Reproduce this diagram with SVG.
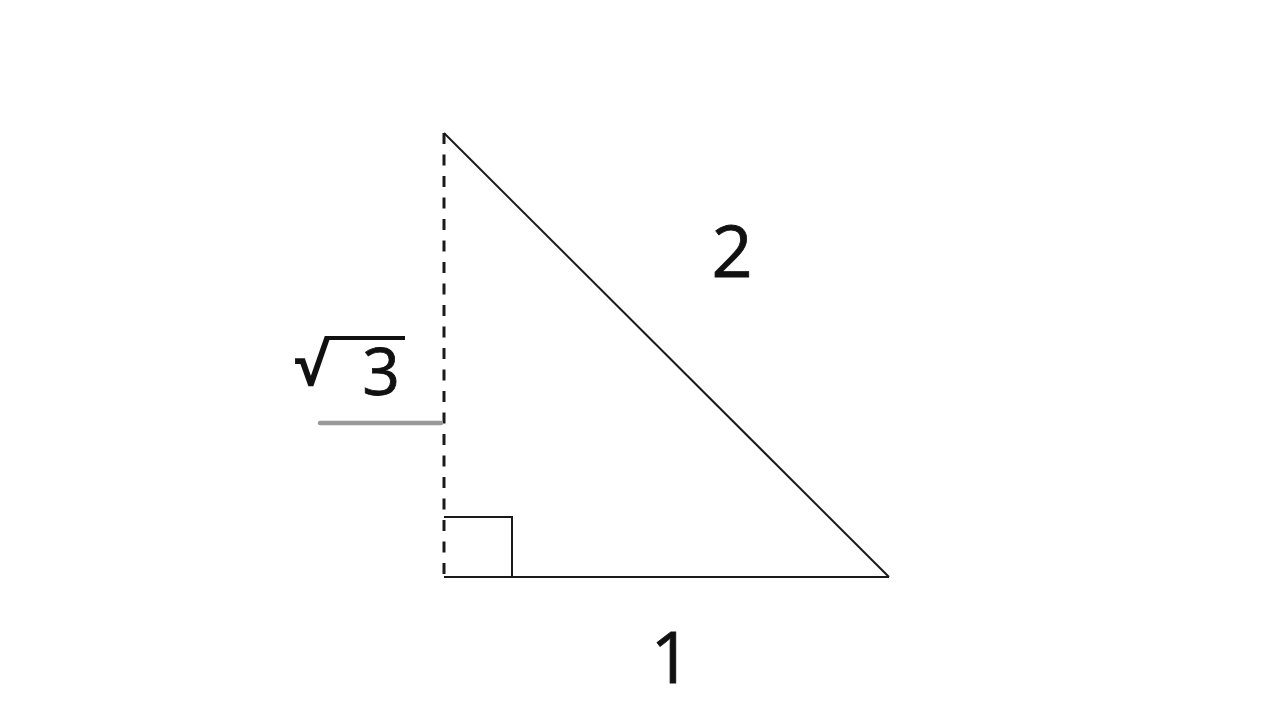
<svg xmlns="http://www.w3.org/2000/svg" width="1280" height="720" viewBox="0 0 1280 720">
<style>
.edge{stroke:#1a1a1a;stroke-width:2;fill:none}
.dash{stroke:#1a1a1a;stroke-width:3;stroke-dasharray:11 10.5;fill:none}
.lbl{font-family:"Open Sans","Noto Sans",sans-serif;fill:#111}
</style>
<rect width="1280" height="720" fill="#ffffff"/>
<g id="connectors">
<line class="dash" x1="444" y1="133" x2="444" y2="577"/>
<line class="edge" x1="444" y1="133" x2="889" y2="577"/>
<line class="edge" x1="444" y1="577" x2="889" y2="577"/>
<polyline class="edge" points="444,517 512,517 512,577"/>
<line x1="320" y1="423" x2="441" y2="423" stroke="#999999" stroke-width="4.5" stroke-linecap="round"/>
</g>
<g id="label-2"><text class="lbl" x="732" y="277" font-size="72" text-anchor="middle" stroke="#111" stroke-width="0.8">2</text></g>
<g id="label-1"><text class="lbl" x="671" y="683" font-size="72" text-anchor="middle" stroke="#111" stroke-width="0.8">1</text></g>
<g id="label-sqrt3">
<text class="lbl" x="295" y="385" font-size="58" font-family="DejaVu Sans, sans-serif" stroke="#111" stroke-width="2">√</text>
<line x1="328" y1="338" x2="405" y2="338" stroke="#111" stroke-width="4"/>
<text class="lbl" x="381" y="395" font-size="66" text-anchor="middle" stroke="#111" stroke-width="0.8">3</text>
</g>
</svg>
